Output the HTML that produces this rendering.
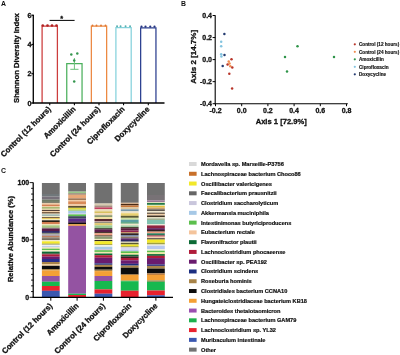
<!DOCTYPE html>
<html><head><meta charset="utf-8"><style>
html,body{margin:0;padding:0;background:#fff;width:400px;height:355px;overflow:hidden}
svg{display:block;font-family:"Liberation Sans", sans-serif}
</style></head><body>
<svg width="400" height="355" viewBox="0 0 400 355">
<defs><filter id="bg" x="-5%" y="-5%" width="110%" height="110%"><feGaussianBlur stdDeviation="0.5"/></filter><filter id="bt" x="-5%" y="-5%" width="110%" height="110%"><feGaussianBlur stdDeviation="0.35"/></filter></defs>
<g filter="url(#bg)">
<rect width="400" height="355" fill="#fff"/>
<path d="M42.10 103.0 V26.19 H57.40 V103.0" fill="none" stroke="#cc3c3c" stroke-width="1.25"/>
<line x1="49.75" y1="103.0" x2="49.75" y2="105.2" stroke="#000" stroke-width="1.1"/>
<path d="M66.75 103.0 V63.50 H82.05 V103.0" fill="none" stroke="#4cb05c" stroke-width="1.25"/>
<line x1="74.4" y1="103.0" x2="74.4" y2="105.2" stroke="#000" stroke-width="1.1"/>
<path d="M91.35 103.0 V26.05 H106.65 V103.0" fill="none" stroke="#ec8840" stroke-width="1.25"/>
<line x1="99.0" y1="103.0" x2="99.0" y2="105.2" stroke="#000" stroke-width="1.1"/>
<path d="M115.90 103.0 V27.51 H131.20 V103.0" fill="none" stroke="#86d2dc" stroke-width="1.25"/>
<line x1="123.55" y1="103.0" x2="123.55" y2="105.2" stroke="#000" stroke-width="1.1"/>
<path d="M140.65 103.0 V27.95 H155.95 V103.0" fill="none" stroke="#2b3f8f" stroke-width="1.25"/>
<line x1="148.3" y1="103.0" x2="148.3" y2="105.2" stroke="#000" stroke-width="1.1"/>
<line x1="33.3" y1="14.8" x2="33.3" y2="103.6" stroke="#000" stroke-width="1.35"/>
<line x1="32.699999999999996" y1="103.0" x2="164.5" y2="103.0" stroke="#000" stroke-width="1.35"/>
<line x1="31.3" y1="103.0" x2="33.3" y2="103.0" stroke="#000" stroke-width="1.2"/>
<line x1="31.3" y1="73.74" x2="33.3" y2="73.74" stroke="#000" stroke-width="1.2"/>
<line x1="31.3" y1="44.48" x2="33.3" y2="44.48" stroke="#000" stroke-width="1.2"/>
<line x1="31.3" y1="15.219999999999999" x2="33.3" y2="15.219999999999999" stroke="#000" stroke-width="1.2"/>
<circle cx="42.75" cy="25.492499999999996" r="1.3" fill="#b02222"/>
<circle cx="47.5" cy="25.492499999999996" r="1.3" fill="#b02222"/>
<circle cx="52.0" cy="25.492499999999996" r="1.3" fill="#b02222"/>
<circle cx="56.5" cy="25.492499999999996" r="1.3" fill="#b02222"/>
<circle cx="92.5" cy="25.5462" r="0.95" fill="#e07830"/>
<circle cx="96.5" cy="25.5462" r="0.95" fill="#e07830"/>
<circle cx="101.0" cy="25.5462" r="0.95" fill="#e07830"/>
<circle cx="105.5" cy="25.5462" r="0.95" fill="#e07830"/>
<circle cx="117.05" cy="26.309199999999993" r="1.0" fill="#58b0b0"/>
<circle cx="120.55" cy="26.309199999999993" r="1.0" fill="#58b0b0"/>
<circle cx="125.55" cy="26.309199999999993" r="1.0" fill="#58b0b0"/>
<circle cx="130.05" cy="26.309199999999993" r="1.0" fill="#58b0b0"/>
<circle cx="141.5" cy="26.548099999999998" r="1.1" fill="#263580"/>
<circle cx="145.5" cy="26.548099999999998" r="1.1" fill="#263580"/>
<circle cx="150.25" cy="26.548099999999998" r="1.1" fill="#263580"/>
<circle cx="154.5" cy="26.548099999999998" r="1.1" fill="#263580"/>
<line x1="74.4" y1="58.0" x2="74.4" y2="69.3" stroke="#6cc07a" stroke-width="1.0"/>
<line x1="70.3" y1="69.3" x2="78.5" y2="69.3" stroke="#6cc07a" stroke-width="1.0"/>
<circle cx="71.3" cy="54.6" r="1.25" fill="#34964e"/>
<circle cx="77.3" cy="53.6" r="1.25" fill="#34964e"/>
<circle cx="74.2" cy="60.4" r="1.25" fill="#34964e"/>
<circle cx="74.2" cy="81.5" r="1.25" fill="#34964e"/>
<line x1="49.6" y1="20.4" x2="74.6" y2="20.4" stroke="#000" stroke-width="1.0"/>
<line x1="215.2" y1="15.2" x2="215.2" y2="104.3" stroke="#000" stroke-width="1.1"/>
<line x1="214.7" y1="103.8" x2="347.8" y2="103.8" stroke="#000" stroke-width="1.1"/>
<line x1="212.6" y1="15.5" x2="215.2" y2="15.5" stroke="#000" stroke-width="1.0"/>
<line x1="212.6" y1="37.55" x2="215.2" y2="37.55" stroke="#000" stroke-width="1.0"/>
<line x1="212.6" y1="59.6" x2="215.2" y2="59.6" stroke="#000" stroke-width="1.0"/>
<line x1="212.6" y1="81.65" x2="215.2" y2="81.65" stroke="#000" stroke-width="1.0"/>
<line x1="212.6" y1="103.7" x2="215.2" y2="103.7" stroke="#000" stroke-width="1.0"/>
<line x1="215.5" y1="103.8" x2="215.5" y2="106.2" stroke="#000" stroke-width="1.0"/>
<line x1="241.7" y1="103.8" x2="241.7" y2="106.2" stroke="#000" stroke-width="1.0"/>
<line x1="267.9" y1="103.8" x2="267.9" y2="106.2" stroke="#000" stroke-width="1.0"/>
<line x1="294.09999999999997" y1="103.8" x2="294.09999999999997" y2="106.2" stroke="#000" stroke-width="1.0"/>
<line x1="320.29999999999995" y1="103.8" x2="320.29999999999995" y2="106.2" stroke="#000" stroke-width="1.0"/>
<line x1="346.5" y1="103.8" x2="346.5" y2="106.2" stroke="#000" stroke-width="1.0"/>
<circle cx="224.4" cy="33.9" r="1.25" fill="#243a70"/>
<circle cx="221.2" cy="41.7" r="1.25" fill="#84c4e0"/>
<circle cx="221.2" cy="46.3" r="1.25" fill="#84c4e0"/>
<circle cx="221.2" cy="54.2" r="1.25" fill="#84c4e0"/>
<circle cx="221.4" cy="56.4" r="1.25" fill="#84c4e0"/>
<circle cx="224.5" cy="55.1" r="1.25" fill="#243a70"/>
<circle cx="222.7" cy="66.1" r="1.25" fill="#243a70"/>
<circle cx="231.5" cy="59.2" r="1.25" fill="#b8342a"/>
<circle cx="228.7" cy="61.6" r="1.25" fill="#f08c50"/>
<circle cx="227.6" cy="64.4" r="1.25" fill="#b8342a"/>
<circle cx="229.5" cy="63.5" r="1.25" fill="#f08c50"/>
<circle cx="230.3" cy="66.2" r="1.25" fill="#f08c50"/>
<circle cx="232.3" cy="67.6" r="1.25" fill="#b8342a"/>
<circle cx="229.3" cy="73.7" r="1.25" fill="#b8342a"/>
<circle cx="232.1" cy="88.4" r="1.25" fill="#b8342a"/>
<circle cx="297.5" cy="46.3" r="1.25" fill="#2e9448"/>
<circle cx="285.0" cy="57.0" r="1.25" fill="#2e9448"/>
<circle cx="334.0" cy="57.0" r="1.25" fill="#2e9448"/>
<circle cx="287.0" cy="71.5" r="1.25" fill="#2e9448"/>
<circle cx="354.8" cy="44.3" r="1.1" fill="#b8342a"/>
<circle cx="354.8" cy="51.8" r="1.1" fill="#f08c50"/>
<circle cx="354.8" cy="59.3" r="1.1" fill="#2e9448"/>
<circle cx="354.8" cy="66.8" r="1.1" fill="#84c4e0"/>
<circle cx="354.8" cy="74.3" r="1.1" fill="#243a70"/>
<rect x="41.90" y="183.00" width="17.80" height="11.05" fill="#707070"/>
<rect x="41.90" y="194.00" width="17.80" height="2.55" fill="#6f777a"/>
<rect x="41.90" y="196.50" width="17.80" height="3.15" fill="#77707a"/>
<rect x="41.90" y="199.60" width="17.80" height="2.35" fill="#707a66"/>
<rect x="41.90" y="201.90" width="17.80" height="1.35" fill="#808070"/>
<rect x="41.90" y="203.20" width="17.80" height="1.45" fill="#ecc9a0"/>
<rect x="41.90" y="204.60" width="17.80" height="1.35" fill="#d07040"/>
<rect x="41.90" y="205.90" width="17.80" height="1.45" fill="#f0d0a8"/>
<rect x="41.90" y="207.30" width="17.80" height="1.35" fill="#86a244"/>
<rect x="41.90" y="208.60" width="17.80" height="1.45" fill="#e0d0a8"/>
<rect x="41.90" y="210.00" width="17.80" height="0.95" fill="#3a2a20"/>
<rect x="41.90" y="210.90" width="17.80" height="1.35" fill="#f2d0a8"/>
<rect x="41.90" y="212.20" width="17.80" height="1.45" fill="#5a3a20"/>
<rect x="41.90" y="213.60" width="17.80" height="0.95" fill="#f0e8c8"/>
<rect x="41.90" y="214.50" width="17.80" height="1.35" fill="#80a0a0"/>
<rect x="41.90" y="215.80" width="17.80" height="1.45" fill="#f0e8c8"/>
<rect x="41.90" y="217.20" width="17.80" height="0.95" fill="#5a4020"/>
<rect x="41.90" y="218.10" width="17.80" height="1.35" fill="#e8c850"/>
<rect x="41.90" y="219.40" width="17.80" height="0.95" fill="#f0f0c8"/>
<rect x="41.90" y="220.30" width="17.80" height="1.85" fill="#2a2018"/>
<rect x="41.90" y="222.10" width="17.80" height="1.85" fill="#d07040"/>
<rect x="41.90" y="223.90" width="17.80" height="1.45" fill="#f0e0b8"/>
<rect x="41.90" y="225.30" width="17.80" height="2.35" fill="#a8c880"/>
<rect x="41.90" y="227.60" width="17.80" height="0.95" fill="#7a8060"/>
<rect x="41.90" y="228.50" width="17.80" height="2.55" fill="#5a1a4a"/>
<rect x="41.90" y="231.00" width="17.80" height="1.95" fill="#302a68"/>
<rect x="41.90" y="232.90" width="17.80" height="1.55" fill="#8a9080"/>
<rect x="41.90" y="234.40" width="17.80" height="1.45" fill="#a098a8"/>
<rect x="41.90" y="235.80" width="17.80" height="1.55" fill="#c08060"/>
<rect x="41.90" y="237.30" width="17.80" height="1.55" fill="#8a8070"/>
<rect x="41.90" y="238.80" width="17.80" height="1.05" fill="#3a3020"/>
<rect x="41.90" y="239.80" width="17.80" height="1.55" fill="#f0e8c8"/>
<rect x="41.90" y="241.30" width="17.80" height="2.45" fill="#f2e829"/>
<rect x="41.90" y="243.70" width="17.80" height="1.05" fill="#8a8a40"/>
<rect x="41.90" y="244.70" width="17.80" height="1.55" fill="#eeeef8"/>
<rect x="41.90" y="246.20" width="17.80" height="1.25" fill="#b0c8e8"/>
<rect x="41.90" y="247.40" width="17.80" height="1.35" fill="#f4e0b0"/>
<rect x="41.90" y="248.70" width="17.80" height="1.45" fill="#5cbf4e"/>
<rect x="41.90" y="250.10" width="17.80" height="1.55" fill="#f0f0c0"/>
<rect x="41.90" y="251.60" width="17.80" height="2.05" fill="#0b6a35"/>
<rect x="41.90" y="253.60" width="17.80" height="0.85" fill="#3a2a20"/>
<rect x="41.90" y="254.40" width="17.80" height="2.25" fill="#b01e3a"/>
<rect x="41.90" y="256.60" width="17.80" height="2.45" fill="#6a1b6e"/>
<rect x="41.90" y="259.00" width="17.80" height="3.05" fill="#2a2f88"/>
<rect x="41.90" y="262.00" width="17.80" height="2.05" fill="#a88448"/>
<rect x="41.90" y="264.00" width="17.80" height="1.85" fill="#f0d0a0"/>
<rect x="41.90" y="265.80" width="17.80" height="3.25" fill="#111111"/>
<rect x="41.90" y="269.00" width="17.80" height="1.45" fill="#a88448"/>
<rect x="41.90" y="270.40" width="17.80" height="5.65" fill="#f4a034"/>
<rect x="41.90" y="276.00" width="17.80" height="5.75" fill="#9452a2"/>
<rect x="41.90" y="281.70" width="17.80" height="4.35" fill="#18b850"/>
<rect x="41.90" y="286.00" width="17.80" height="4.85" fill="#e8212e"/>
<rect x="41.90" y="290.80" width="17.80" height="6.55" fill="#3a58b0"/>
<line x1="50.8" y1="297.3" x2="50.8" y2="300.7" stroke="#000" stroke-width="1.0"/>
<rect x="68.20" y="183.00" width="17.80" height="8.65" fill="#707070"/>
<rect x="68.20" y="191.60" width="17.80" height="1.75" fill="#98c888"/>
<rect x="68.20" y="193.30" width="17.80" height="1.45" fill="#8a7a6a"/>
<rect x="68.20" y="194.70" width="17.80" height="3.65" fill="#e8a878"/>
<rect x="68.20" y="198.30" width="17.80" height="1.85" fill="#a07858"/>
<rect x="68.20" y="200.10" width="17.80" height="1.25" fill="#f0c8a0"/>
<rect x="68.20" y="201.30" width="17.80" height="3.05" fill="#d88a58"/>
<rect x="68.20" y="204.30" width="17.80" height="1.75" fill="#f0c8a0"/>
<rect x="68.20" y="206.00" width="17.80" height="1.85" fill="#5a5030"/>
<rect x="68.20" y="207.80" width="17.80" height="1.85" fill="#e0d840"/>
<rect x="68.20" y="209.60" width="17.80" height="1.25" fill="#a8d060"/>
<rect x="68.20" y="210.80" width="17.80" height="2.65" fill="#a6c8e6"/>
<rect x="68.20" y="213.40" width="17.80" height="1.05" fill="#c0c8e8"/>
<rect x="68.20" y="214.40" width="17.80" height="1.85" fill="#5cbf4e"/>
<rect x="68.20" y="216.20" width="17.80" height="2.45" fill="#3a4a5a"/>
<rect x="68.20" y="218.60" width="17.80" height="2.65" fill="#5a2a8a"/>
<rect x="68.20" y="221.20" width="17.80" height="1.65" fill="#4a1a5a"/>
<rect x="68.20" y="222.80" width="17.80" height="1.55" fill="#111111"/>
<rect x="68.20" y="224.30" width="17.80" height="1.55" fill="#f4a034"/>
<rect x="68.20" y="225.80" width="17.80" height="67.95" fill="#9452a2"/>
<rect x="68.20" y="293.70" width="17.80" height="1.35" fill="#18b850"/>
<rect x="68.20" y="295.00" width="17.80" height="2.35" fill="#e8212e"/>
<line x1="77.10000000000001" y1="297.3" x2="77.10000000000001" y2="300.7" stroke="#000" stroke-width="1.0"/>
<rect x="94.50" y="183.00" width="17.80" height="20.55" fill="#707070"/>
<rect x="94.50" y="203.50" width="17.80" height="1.95" fill="#d8ccb0"/>
<rect x="94.50" y="205.40" width="17.80" height="2.05" fill="#a89080"/>
<rect x="94.50" y="207.40" width="17.80" height="1.95" fill="#c04060"/>
<rect x="94.50" y="209.30" width="17.80" height="2.05" fill="#ecdcb8"/>
<rect x="94.50" y="211.30" width="17.80" height="1.95" fill="#d8c060"/>
<rect x="94.50" y="213.20" width="17.80" height="2.05" fill="#f0d8b0"/>
<rect x="94.50" y="215.20" width="17.80" height="1.95" fill="#8a9a70"/>
<rect x="94.50" y="217.10" width="17.80" height="1.95" fill="#f0e0a0"/>
<rect x="94.50" y="219.00" width="17.80" height="2.05" fill="#5a2a30"/>
<rect x="94.50" y="221.00" width="17.80" height="1.25" fill="#c8a8a0"/>
<rect x="94.50" y="222.20" width="17.80" height="0.95" fill="#7a7a68"/>
<rect x="94.50" y="223.10" width="17.80" height="2.35" fill="#e0c870"/>
<rect x="94.50" y="225.40" width="17.80" height="2.85" fill="#98c890"/>
<rect x="94.50" y="228.20" width="17.80" height="1.15" fill="#303020"/>
<rect x="94.50" y="229.30" width="17.80" height="2.85" fill="#5a1a4a"/>
<rect x="94.50" y="232.10" width="17.80" height="1.25" fill="#3a2a20"/>
<rect x="94.50" y="233.30" width="17.80" height="1.75" fill="#f0a080"/>
<rect x="94.50" y="235.00" width="17.80" height="1.65" fill="#8a7060"/>
<rect x="94.50" y="236.60" width="17.80" height="2.35" fill="#8a9a70"/>
<rect x="94.50" y="238.90" width="17.80" height="1.15" fill="#f0e8c0"/>
<rect x="94.50" y="240.00" width="17.80" height="1.25" fill="#302820"/>
<rect x="94.50" y="241.20" width="17.80" height="2.85" fill="#f2e829"/>
<rect x="94.50" y="244.00" width="17.80" height="1.15" fill="#b0a850"/>
<rect x="94.50" y="245.10" width="17.80" height="1.75" fill="#f0f0e0"/>
<rect x="94.50" y="246.80" width="17.80" height="2.25" fill="#a6c8e6"/>
<rect x="94.50" y="249.00" width="17.80" height="1.25" fill="#c9c6dc"/>
<rect x="94.50" y="250.20" width="17.80" height="1.75" fill="#5cbf4e"/>
<rect x="94.50" y="251.90" width="17.80" height="1.65" fill="#f0e8b0"/>
<rect x="94.50" y="253.50" width="17.80" height="1.75" fill="#0b6a35"/>
<rect x="94.50" y="255.20" width="17.80" height="2.55" fill="#b01e3a"/>
<rect x="94.50" y="257.70" width="17.80" height="5.75" fill="#6a1b6e"/>
<rect x="94.50" y="263.40" width="17.80" height="1.45" fill="#1f2f80"/>
<rect x="94.50" y="264.80" width="17.80" height="2.15" fill="#a88448"/>
<rect x="94.50" y="266.90" width="17.80" height="2.85" fill="#111111"/>
<rect x="94.50" y="269.70" width="17.80" height="1.45" fill="#a88448"/>
<rect x="94.50" y="271.10" width="17.80" height="4.95" fill="#f4a034"/>
<rect x="94.50" y="276.00" width="17.80" height="5.05" fill="#9452a2"/>
<rect x="94.50" y="281.00" width="17.80" height="8.45" fill="#18b850"/>
<rect x="94.50" y="289.40" width="17.80" height="4.35" fill="#e8212e"/>
<rect x="94.50" y="293.70" width="17.80" height="3.65" fill="#3a58b0"/>
<line x1="103.4" y1="297.3" x2="103.4" y2="300.7" stroke="#000" stroke-width="1.0"/>
<rect x="120.80" y="183.00" width="17.80" height="19.85" fill="#707070"/>
<rect x="120.80" y="202.80" width="17.80" height="1.05" fill="#f0c8a0"/>
<rect x="120.80" y="203.80" width="17.80" height="1.65" fill="#4a2a18"/>
<rect x="120.80" y="205.40" width="17.80" height="2.05" fill="#c8783a"/>
<rect x="120.80" y="207.40" width="17.80" height="1.95" fill="#dcc8a0"/>
<rect x="120.80" y="209.30" width="17.80" height="2.05" fill="#7898a8"/>
<rect x="120.80" y="211.30" width="17.80" height="1.95" fill="#eee4c8"/>
<rect x="120.80" y="213.20" width="17.80" height="2.65" fill="#e8d070"/>
<rect x="120.80" y="215.80" width="17.80" height="2.05" fill="#5a5a30"/>
<rect x="120.80" y="217.80" width="17.80" height="1.95" fill="#d0e0a0"/>
<rect x="120.80" y="219.70" width="17.80" height="2.55" fill="#5aa0a0"/>
<rect x="120.80" y="222.20" width="17.80" height="1.55" fill="#4a9a70"/>
<rect x="120.80" y="223.70" width="17.80" height="1.75" fill="#eee8c8"/>
<rect x="120.80" y="225.40" width="17.80" height="1.75" fill="#a0c8a0"/>
<rect x="120.80" y="227.10" width="17.80" height="1.15" fill="#3a3020"/>
<rect x="120.80" y="228.20" width="17.80" height="2.35" fill="#5a1a3a"/>
<rect x="120.80" y="230.50" width="17.80" height="1.65" fill="#902050"/>
<rect x="120.80" y="232.10" width="17.80" height="1.25" fill="#c09060"/>
<rect x="120.80" y="233.30" width="17.80" height="1.75" fill="#302020"/>
<rect x="120.80" y="235.00" width="17.80" height="1.65" fill="#7888a8"/>
<rect x="120.80" y="236.60" width="17.80" height="1.75" fill="#8a7868"/>
<rect x="120.80" y="238.30" width="17.80" height="1.75" fill="#5a2a6a"/>
<rect x="120.80" y="240.00" width="17.80" height="1.75" fill="#2a2a60"/>
<rect x="120.80" y="241.70" width="17.80" height="1.15" fill="#f0e8c0"/>
<rect x="120.80" y="242.80" width="17.80" height="1.75" fill="#5a5a30"/>
<rect x="120.80" y="244.50" width="17.80" height="1.75" fill="#f2e829"/>
<rect x="120.80" y="246.20" width="17.80" height="1.25" fill="#a0a040"/>
<rect x="120.80" y="247.40" width="17.80" height="2.25" fill="#d8d4f0"/>
<rect x="120.80" y="249.60" width="17.80" height="1.75" fill="#b8c8e8"/>
<rect x="120.80" y="251.30" width="17.80" height="1.75" fill="#5cbf4e"/>
<rect x="120.80" y="253.00" width="17.80" height="1.75" fill="#f0e8a0"/>
<rect x="120.80" y="254.70" width="17.80" height="1.75" fill="#0b6a35"/>
<rect x="120.80" y="256.40" width="17.80" height="1.65" fill="#3a2020"/>
<rect x="120.80" y="258.00" width="17.80" height="2.35" fill="#b01e3a"/>
<rect x="120.80" y="260.30" width="17.80" height="3.55" fill="#6a1b6e"/>
<rect x="120.80" y="263.80" width="17.80" height="1.85" fill="#1f2f80"/>
<rect x="120.80" y="265.60" width="17.80" height="2.15" fill="#a88448"/>
<rect x="120.80" y="267.70" width="17.80" height="6.95" fill="#111111"/>
<rect x="120.80" y="274.60" width="17.80" height="5.95" fill="#f4a034"/>
<rect x="120.80" y="280.50" width="17.80" height="0.75" fill="#8a9a40"/>
<rect x="120.80" y="281.20" width="17.80" height="9.55" fill="#18b850"/>
<rect x="120.80" y="290.70" width="17.80" height="6.65" fill="#e8212e"/>
<line x1="129.7" y1="297.3" x2="129.7" y2="300.7" stroke="#000" stroke-width="1.0"/>
<rect x="147.00" y="183.00" width="17.80" height="12.05" fill="#707070"/>
<rect x="147.00" y="195.00" width="17.80" height="5.35" fill="#787276"/>
<rect x="147.00" y="200.30" width="17.80" height="1.75" fill="#9a7a98"/>
<rect x="147.00" y="202.00" width="17.80" height="1.15" fill="#e0e0c0"/>
<rect x="147.00" y="203.10" width="17.80" height="1.75" fill="#0b6a35"/>
<rect x="147.00" y="204.80" width="17.80" height="1.15" fill="#e0e8c0"/>
<rect x="147.00" y="205.90" width="17.80" height="1.75" fill="#e8c040"/>
<rect x="147.00" y="207.60" width="17.80" height="1.75" fill="#c8a070"/>
<rect x="147.00" y="209.30" width="17.80" height="1.75" fill="#605850"/>
<rect x="147.00" y="211.00" width="17.80" height="1.75" fill="#f0e8d0"/>
<rect x="147.00" y="212.70" width="17.80" height="1.15" fill="#403020"/>
<rect x="147.00" y="213.80" width="17.80" height="1.75" fill="#f2d0a8"/>
<rect x="147.00" y="215.50" width="17.80" height="1.75" fill="#403020"/>
<rect x="147.00" y="217.20" width="17.80" height="1.25" fill="#e8e0c0"/>
<rect x="147.00" y="218.40" width="17.80" height="1.65" fill="#a0b090"/>
<rect x="147.00" y="220.00" width="17.80" height="4.35" fill="#80c0b0"/>
<rect x="147.00" y="224.30" width="17.80" height="1.15" fill="#f0e8d0"/>
<rect x="147.00" y="225.40" width="17.80" height="2.85" fill="#902040"/>
<rect x="147.00" y="228.20" width="17.80" height="1.75" fill="#5a1a5a"/>
<rect x="147.00" y="229.90" width="17.80" height="1.75" fill="#302020"/>
<rect x="147.00" y="231.60" width="17.80" height="1.75" fill="#f0a080"/>
<rect x="147.00" y="233.30" width="17.80" height="2.25" fill="#2a7a5a"/>
<rect x="147.00" y="235.50" width="17.80" height="1.15" fill="#b01e3a"/>
<rect x="147.00" y="236.60" width="17.80" height="1.75" fill="#f0d0b0"/>
<rect x="147.00" y="238.30" width="17.80" height="1.25" fill="#302820"/>
<rect x="147.00" y="239.50" width="17.80" height="3.35" fill="#f2e829"/>
<rect x="147.00" y="242.80" width="17.80" height="1.75" fill="#a0a040"/>
<rect x="147.00" y="244.50" width="17.80" height="1.25" fill="#f0f0e0"/>
<rect x="147.00" y="245.70" width="17.80" height="3.35" fill="#b8c8f0"/>
<rect x="147.00" y="249.00" width="17.80" height="1.75" fill="#f0f0e0"/>
<rect x="147.00" y="250.70" width="17.80" height="1.75" fill="#5cbf4e"/>
<rect x="147.00" y="252.40" width="17.80" height="1.75" fill="#f0e8a0"/>
<rect x="147.00" y="254.10" width="17.80" height="1.75" fill="#0b6a35"/>
<rect x="147.00" y="255.80" width="17.80" height="2.35" fill="#b01e3a"/>
<rect x="147.00" y="258.10" width="17.80" height="6.35" fill="#6a1b6e"/>
<rect x="147.00" y="264.40" width="17.80" height="1.55" fill="#2a2f80"/>
<rect x="147.00" y="265.90" width="17.80" height="2.75" fill="#a88448"/>
<rect x="147.00" y="268.60" width="17.80" height="4.85" fill="#111111"/>
<rect x="147.00" y="273.40" width="17.80" height="1.65" fill="#c08040"/>
<rect x="147.00" y="275.00" width="17.80" height="5.45" fill="#f4a034"/>
<rect x="147.00" y="280.40" width="17.80" height="1.45" fill="#8a8a50"/>
<rect x="147.00" y="281.80" width="17.80" height="8.75" fill="#18b850"/>
<rect x="147.00" y="290.50" width="17.80" height="4.85" fill="#e8212e"/>
<rect x="147.00" y="295.30" width="17.80" height="2.05" fill="#3a58b0"/>
<line x1="155.9" y1="297.3" x2="155.9" y2="300.7" stroke="#000" stroke-width="1.0"/>
<line x1="33.2" y1="182.6" x2="33.2" y2="297.8" stroke="#000" stroke-width="1.25"/>
<line x1="32.7" y1="297.3" x2="173.0" y2="297.3" stroke="#000" stroke-width="1.25"/>
<line x1="29.6" y1="297.3" x2="33.2" y2="297.3" stroke="#000" stroke-width="0.9"/>
<line x1="31.1" y1="291.565" x2="33.2" y2="291.565" stroke="#000" stroke-width="0.9"/>
<line x1="31.1" y1="285.83" x2="33.2" y2="285.83" stroke="#000" stroke-width="0.9"/>
<line x1="31.1" y1="280.095" x2="33.2" y2="280.095" stroke="#000" stroke-width="0.9"/>
<line x1="31.1" y1="274.36" x2="33.2" y2="274.36" stroke="#000" stroke-width="0.9"/>
<line x1="31.1" y1="268.625" x2="33.2" y2="268.625" stroke="#000" stroke-width="0.9"/>
<line x1="31.1" y1="262.89" x2="33.2" y2="262.89" stroke="#000" stroke-width="0.9"/>
<line x1="31.1" y1="257.15500000000003" x2="33.2" y2="257.15500000000003" stroke="#000" stroke-width="0.9"/>
<line x1="31.1" y1="251.42000000000002" x2="33.2" y2="251.42000000000002" stroke="#000" stroke-width="0.9"/>
<line x1="31.1" y1="245.685" x2="33.2" y2="245.685" stroke="#000" stroke-width="0.9"/>
<line x1="29.6" y1="239.95" x2="33.2" y2="239.95" stroke="#000" stroke-width="0.9"/>
<line x1="31.1" y1="234.215" x2="33.2" y2="234.215" stroke="#000" stroke-width="0.9"/>
<line x1="31.1" y1="228.48000000000002" x2="33.2" y2="228.48000000000002" stroke="#000" stroke-width="0.9"/>
<line x1="31.1" y1="222.745" x2="33.2" y2="222.745" stroke="#000" stroke-width="0.9"/>
<line x1="31.1" y1="217.01" x2="33.2" y2="217.01" stroke="#000" stroke-width="0.9"/>
<line x1="31.1" y1="211.275" x2="33.2" y2="211.275" stroke="#000" stroke-width="0.9"/>
<line x1="31.1" y1="205.54" x2="33.2" y2="205.54" stroke="#000" stroke-width="0.9"/>
<line x1="31.1" y1="199.805" x2="33.2" y2="199.805" stroke="#000" stroke-width="0.9"/>
<line x1="31.1" y1="194.07" x2="33.2" y2="194.07" stroke="#000" stroke-width="0.9"/>
<line x1="31.1" y1="188.335" x2="33.2" y2="188.335" stroke="#000" stroke-width="0.9"/>
<line x1="29.6" y1="182.6" x2="33.2" y2="182.6" stroke="#000" stroke-width="0.9"/>
<rect x="189.00" y="162.00" width="7.60" height="4.00" fill="#d9d9d9"/>
<rect x="189.00" y="171.77" width="7.60" height="4.00" fill="#c8702a"/>
<rect x="189.00" y="181.54" width="7.60" height="4.00" fill="#f2e829"/>
<rect x="189.00" y="191.31" width="7.60" height="4.00" fill="#666666"/>
<rect x="189.00" y="201.08" width="7.60" height="4.00" fill="#c9c6dc"/>
<rect x="189.00" y="210.85" width="7.60" height="4.00" fill="#a6c8e6"/>
<rect x="189.00" y="220.62" width="7.60" height="4.00" fill="#5cbf4e"/>
<rect x="189.00" y="230.39" width="7.60" height="4.00" fill="#f4c49c"/>
<rect x="189.00" y="240.16" width="7.60" height="4.00" fill="#0b6a35"/>
<rect x="189.00" y="249.93" width="7.60" height="4.00" fill="#b01e3a"/>
<rect x="189.00" y="259.70" width="7.60" height="4.00" fill="#6a1b6e"/>
<rect x="189.00" y="269.47" width="7.60" height="4.00" fill="#1f2f80"/>
<rect x="189.00" y="279.24" width="7.60" height="4.00" fill="#a88448"/>
<rect x="189.00" y="289.01" width="7.60" height="4.00" fill="#111111"/>
<rect x="189.00" y="298.78" width="7.60" height="4.00" fill="#f4a034"/>
<rect x="189.00" y="308.55" width="7.60" height="4.00" fill="#9a4fb0"/>
<rect x="189.00" y="318.32" width="7.60" height="4.00" fill="#1fb04d"/>
<rect x="189.00" y="328.09" width="7.60" height="4.00" fill="#e8212e"/>
<rect x="189.00" y="337.86" width="7.60" height="4.00" fill="#3a58b0"/>
<rect x="189.00" y="347.63" width="7.60" height="4.00" fill="#737373"/>
</g>
<g filter="url(#bt)">
<text x="1.0" y="5.8" font-size="6.9" text-anchor="start" font-weight="bold" fill="#111" stroke="#111" stroke-width="0">A</text>
<text x="31.4" y="105.6" font-size="7.2" text-anchor="end" font-weight="bold" fill="#111" stroke="#111" stroke-width="0.3">0</text>
<text x="31.4" y="76.33999999999999" font-size="7.2" text-anchor="end" font-weight="bold" fill="#111" stroke="#111" stroke-width="0.3">2</text>
<text x="31.4" y="47.08" font-size="7.2" text-anchor="end" font-weight="bold" fill="#111" stroke="#111" stroke-width="0.3">4</text>
<text x="31.4" y="17.82" font-size="7.2" text-anchor="end" font-weight="bold" fill="#111" stroke="#111" stroke-width="0.3">6</text>
<text x="19.5" y="58.1" font-size="7.7" text-anchor="middle" font-weight="bold" fill="#111" stroke="#111" stroke-width="0.3" transform="rotate(-90 19.5 58.1)">Shannon Diversity Index</text>
<text x="61.6" y="20.8" font-size="7.4" text-anchor="middle" font-weight="bold" fill="#111" stroke="#111" stroke-width="0.3">*</text>
<text x="51.45" y="109.7" font-size="7.8" text-anchor="end" font-weight="bold" fill="#111" stroke="#111" stroke-width="0.3" transform="rotate(-45 51.45 109.7)">Control (12 hours)</text>
<text x="76.10000000000001" y="109.7" font-size="7.8" text-anchor="end" font-weight="bold" fill="#111" stroke="#111" stroke-width="0.3" transform="rotate(-45 76.10000000000001 109.7)">Amoxicillin</text>
<text x="100.7" y="109.7" font-size="7.8" text-anchor="end" font-weight="bold" fill="#111" stroke="#111" stroke-width="0.3" transform="rotate(-45 100.7 109.7)">Control (24 hours)</text>
<text x="125.25" y="109.7" font-size="7.8" text-anchor="end" font-weight="bold" fill="#111" stroke="#111" stroke-width="0.3" transform="rotate(-45 125.25 109.7)">Ciprofloxacin</text>
<text x="150.0" y="109.7" font-size="7.8" text-anchor="end" font-weight="bold" fill="#111" stroke="#111" stroke-width="0.3" transform="rotate(-45 150.0 109.7)">Doxycycline</text>
<text x="180.9" y="5.9" font-size="6.9" text-anchor="start" font-weight="bold" fill="#111" stroke="#111" stroke-width="0">B</text>
<text x="212.0" y="18.0" font-size="7.0" text-anchor="end" font-weight="bold" fill="#111" stroke="#111" stroke-width="0.3">0.4</text>
<text x="212.0" y="40.05" font-size="7.0" text-anchor="end" font-weight="bold" fill="#111" stroke="#111" stroke-width="0.3">0.2</text>
<text x="212.0" y="62.1" font-size="7.0" text-anchor="end" font-weight="bold" fill="#111" stroke="#111" stroke-width="0.3">0.0</text>
<text x="212.0" y="84.15" font-size="7.0" text-anchor="end" font-weight="bold" fill="#111" stroke="#111" stroke-width="0.3">-0.2</text>
<text x="212.0" y="106.2" font-size="7.0" text-anchor="end" font-weight="bold" fill="#111" stroke="#111" stroke-width="0.3">-0.4</text>
<text x="215.5" y="113.1" font-size="7.0" text-anchor="middle" font-weight="bold" fill="#111" stroke="#111" stroke-width="0.3">-0.2</text>
<text x="241.7" y="113.1" font-size="7.0" text-anchor="middle" font-weight="bold" fill="#111" stroke="#111" stroke-width="0.3">0.0</text>
<text x="267.9" y="113.1" font-size="7.0" text-anchor="middle" font-weight="bold" fill="#111" stroke="#111" stroke-width="0.3">0.2</text>
<text x="294.09999999999997" y="113.1" font-size="7.0" text-anchor="middle" font-weight="bold" fill="#111" stroke="#111" stroke-width="0.3">0.4</text>
<text x="320.29999999999995" y="113.1" font-size="7.0" text-anchor="middle" font-weight="bold" fill="#111" stroke="#111" stroke-width="0.3">0.6</text>
<text x="346.5" y="113.1" font-size="7.0" text-anchor="middle" font-weight="bold" fill="#111" stroke="#111" stroke-width="0.3">0.8</text>
<text x="281.2" y="124.4" font-size="7.6" text-anchor="middle" font-weight="bold" fill="#111" stroke="#111" stroke-width="0.3">Axis 1 [72.9%]</text>
<text x="196.0" y="56.8" font-size="8.0" text-anchor="middle" font-weight="bold" fill="#111" stroke="#111" stroke-width="0.3" transform="rotate(-90 196.0 56.8)">Axis 2 [14.7%]</text>
<text x="359.0" y="46.0" font-size="4.65" text-anchor="start" font-weight="bold" fill="#111" stroke="#111" stroke-width="0.15">Control (12 hours)</text>
<text x="359.0" y="53.5" font-size="4.65" text-anchor="start" font-weight="bold" fill="#111" stroke="#111" stroke-width="0.15">Control (24 hours)</text>
<text x="359.0" y="61.0" font-size="4.65" text-anchor="start" font-weight="bold" fill="#111" stroke="#111" stroke-width="0.15">Amoxicillin</text>
<text x="359.0" y="68.5" font-size="4.65" text-anchor="start" font-weight="bold" fill="#111" stroke="#111" stroke-width="0.15">Ciprofloxacin</text>
<text x="359.0" y="76.0" font-size="4.65" text-anchor="start" font-weight="bold" fill="#111" stroke="#111" stroke-width="0.15">Doxycycline</text>
<text x="0.9" y="172.9" font-size="6.9" text-anchor="start" font-weight="bold" fill="#111" stroke="#111" stroke-width="0">C</text>
<text x="13.1" y="239.0" font-size="7.6" text-anchor="middle" font-weight="bold" fill="#111" stroke="#111" stroke-width="0.3" transform="rotate(-90 13.1 239.0)">Relative Abundance (%)</text>
<text x="29.2" y="299.8" font-size="7.0" text-anchor="end" font-weight="bold" fill="#111" stroke="#111" stroke-width="0.3">0</text>
<text x="29.2" y="242.45" font-size="7.0" text-anchor="end" font-weight="bold" fill="#111" stroke="#111" stroke-width="0.3">50</text>
<text x="29.2" y="185.1" font-size="7.0" text-anchor="end" font-weight="bold" fill="#111" stroke="#111" stroke-width="0.3">100</text>
<text x="52.949999999999996" y="306.3" font-size="7.85" text-anchor="end" font-weight="bold" fill="#111" stroke="#111" stroke-width="0.3" transform="rotate(-45 52.949999999999996 306.3)">Control (12 hours)</text>
<text x="79.25000000000001" y="306.3" font-size="7.85" text-anchor="end" font-weight="bold" fill="#111" stroke="#111" stroke-width="0.3" transform="rotate(-45 79.25000000000001 306.3)">Amoxicillin</text>
<text x="105.55000000000001" y="306.3" font-size="7.85" text-anchor="end" font-weight="bold" fill="#111" stroke="#111" stroke-width="0.3" transform="rotate(-45 105.55000000000001 306.3)">Control (24 hours)</text>
<text x="131.85" y="306.3" font-size="7.85" text-anchor="end" font-weight="bold" fill="#111" stroke="#111" stroke-width="0.3" transform="rotate(-45 131.85 306.3)">Ciprofloxacin</text>
<text x="158.05" y="306.3" font-size="7.85" text-anchor="end" font-weight="bold" fill="#111" stroke="#111" stroke-width="0.3" transform="rotate(-45 158.05 306.3)">Doxycycline</text>
<text x="201.0" y="166.0" font-size="5.64" text-anchor="start" font-weight="bold" fill="#111" stroke="#111" stroke-width="0.2">Mordavella sp. Marseille-P3756</text>
<text x="201.0" y="175.77" font-size="5.64" text-anchor="start" font-weight="bold" fill="#111" stroke="#111" stroke-width="0.2">Lachnospiraceae bacterium Choco86</text>
<text x="201.0" y="185.54" font-size="5.64" text-anchor="start" font-weight="bold" fill="#111" stroke="#111" stroke-width="0.2">Oscillibacter valericigenes</text>
<text x="201.0" y="195.31" font-size="5.64" text-anchor="start" font-weight="bold" fill="#111" stroke="#111" stroke-width="0.2">Faecalibacterium prausnitzii</text>
<text x="201.0" y="205.07999999999998" font-size="5.64" text-anchor="start" font-weight="bold" fill="#111" stroke="#111" stroke-width="0.2">Clostridium saccharolyticum</text>
<text x="201.0" y="214.85" font-size="5.64" text-anchor="start" font-weight="bold" fill="#111" stroke="#111" stroke-width="0.2">Akkermansia muciniphila</text>
<text x="201.0" y="224.62" font-size="5.64" text-anchor="start" font-weight="bold" fill="#111" stroke="#111" stroke-width="0.2">Intestinimonas butyriciproducens</text>
<text x="201.0" y="234.39" font-size="5.64" text-anchor="start" font-weight="bold" fill="#111" stroke="#111" stroke-width="0.2">Eubacterium rectale</text>
<text x="201.0" y="244.16" font-size="5.64" text-anchor="start" font-weight="bold" fill="#111" stroke="#111" stroke-width="0.2">Flavonifractor plautii</text>
<text x="201.0" y="253.93" font-size="5.64" text-anchor="start" font-weight="bold" fill="#111" stroke="#111" stroke-width="0.2">Lachnoclostridium phocaeense</text>
<text x="201.0" y="263.7" font-size="5.64" text-anchor="start" font-weight="bold" fill="#111" stroke="#111" stroke-width="0.2">Oscillibacter sp. PEA192</text>
<text x="201.0" y="273.47" font-size="5.64" text-anchor="start" font-weight="bold" fill="#111" stroke="#111" stroke-width="0.2">Clostridium scindens</text>
<text x="201.0" y="283.24" font-size="5.64" text-anchor="start" font-weight="bold" fill="#111" stroke="#111" stroke-width="0.2">Roseburia hominis</text>
<text x="201.0" y="293.01" font-size="5.64" text-anchor="start" font-weight="bold" fill="#111" stroke="#111" stroke-width="0.2">Clostridiales bacterium CCNA10</text>
<text x="201.0" y="302.78" font-size="5.64" text-anchor="start" font-weight="bold" fill="#111" stroke="#111" stroke-width="0.2">Hungateiclostridiaceae bacterium KB18</text>
<text x="201.0" y="312.54999999999995" font-size="5.64" text-anchor="start" font-weight="bold" fill="#111" stroke="#111" stroke-width="0.2">Bacteroides thetaiotaomicron</text>
<text x="201.0" y="322.32" font-size="5.64" text-anchor="start" font-weight="bold" fill="#111" stroke="#111" stroke-width="0.2">Lachnospiraceae bacterium GAM79</text>
<text x="201.0" y="332.09000000000003" font-size="5.64" text-anchor="start" font-weight="bold" fill="#111" stroke="#111" stroke-width="0.2">Lachnoclostridium sp. YL32</text>
<text x="201.0" y="341.86" font-size="5.64" text-anchor="start" font-weight="bold" fill="#111" stroke="#111" stroke-width="0.2">Muribaculum intestinale</text>
<text x="201.0" y="351.63" font-size="5.64" text-anchor="start" font-weight="bold" fill="#111" stroke="#111" stroke-width="0.2">Other</text>
</g>
</svg>
</body></html>
